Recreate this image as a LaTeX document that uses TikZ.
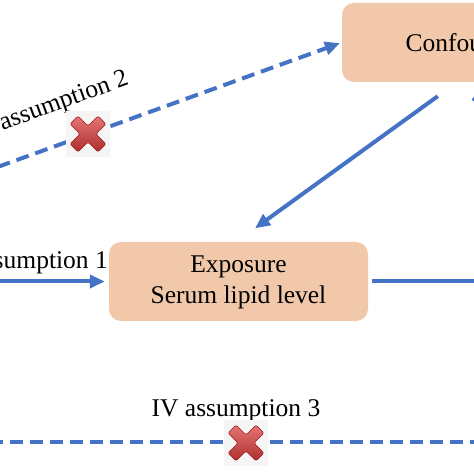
\documentclass[tikz,border=0pt]{standalone}
\usepackage{fontspec}
\setmainfont{Liberation Serif}
\usetikzlibrary{arrows.meta, calc}
\definecolor{peche}{HTML}{F1C8A9}
\definecolor{bleu}{HTML}{4472C4}
\definecolor{rouge}{HTML}{D93A3A}
\definecolor{rougefonce}{HTML}{9E1B1B}
\tikzset{
  boite/.style={rectangle, rounded corners=12pt, fill=peche, minimum width=259pt, minimum height=79pt, align=center, font=\fontsize{25.5pt}{31pt}\selectfont},
  lien/.style={bleu, line width=4pt},
  pointille/.style={lien, dash pattern=on 13pt off 7pt},
  fleche/.style={-{Triangle[length=15pt, width=13pt]}},
  etiquette/.style={font=\fontsize{25.5pt}{31pt}\selectfont, inner sep=0pt},
  fond/.style={fill=black!4, minimum width=44pt, minimum height=46pt, inner sep=0pt},
  croix/.style={top color=rouge!70!white, bottom color=rouge!80!black, draw=rougefonce, line width=0.6pt, rounded corners=2pt},
}
\newcommand{\croixrouge}[1]{%
  \shadedraw[croix, shift={(#1.center)}] (0,8) -- (10,18) -- (18,10) -- (8,0) -- (18,-10) -- (10,-18) -- (0,-8) -- (-10,-18) -- (-18,-10) -- (-8,0) -- (-18,10) -- (-10,18) -- cycle;}

\begin{document}
\begin{tikzpicture}[x=1pt, y=1pt]
    \useasboundingbox (0,0) rectangle (474,474);
    \clip (0,0) rectangle (474,474);
    % Boites
    \node[boite] (conf) at (471.5,431.5) {Confounders};
    \node[boite, text depth=3pt] (expo) at (238.5,192.5) {Exposure\\Serum lipid level};
    % Liens
    \coordinate (in1) at (-20,192.5);
    \coordinate (out1) at (520,192.5);
    \draw[lien, fleche, shorten >=4pt] (in1) -- (expo.west);
    \draw[lien, shorten <=4pt] (expo.east) -- (out1);
    \coordinate (d1) at ($(conf.south west)+(96,-14)$);
    \coordinate (f1) at ($(expo.north)+(16.5,13.5)$);
    \draw[lien, fleche] (d1) -- (f1);
    \coordinate (d2) at ($(conf.south west)+(131,-16)$);
    \coordinate (f2) at (655,245);
    \draw[lien] (d2) -- (f2);
    \coordinate (in2) at (-40,293.4);
    \draw[pointille, fleche, shorten >=2pt] (in2) -- (conf.west);
    \coordinate (in3) at (-10,32);
    \coordinate (out3) at (484,32);
    \draw[pointille] (in3) -- (out3);
    % Etiquettes
    \node[etiquette, anchor=base east] (asm1) at (108,205) {IV assumption 1};
    \node[etiquette, anchor=base, rotate=20] (asm2) at (50.5,361) {IV assumption 2};
    \node[etiquette, anchor=base] (asm3) at (236,57) {IV assumption 3};
    % Croix
    \node[fond] (x2) at (88,340) {};
    \croixrouge{x2}
    \node[fond] (x3) at (246,31) {};
    \croixrouge{x3}
\end{tikzpicture}
\end{document}
